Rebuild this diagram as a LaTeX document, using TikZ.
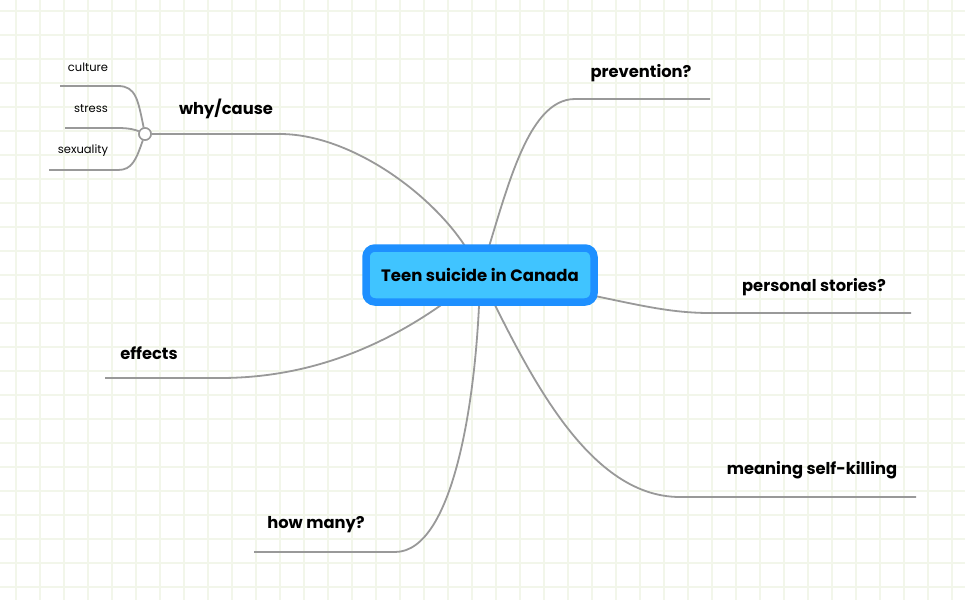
\documentclass[tikz,border=0pt]{standalone}
\usepackage{fontspec}
\setmainfont{Poppins}
\definecolor{gridc}{HTML}{F2F6EA}
\definecolor{linec}{HTML}{999999}
\definecolor{boxborder}{HTML}{1E90FF}
\definecolor{boxfill}{HTML}{40C4FF}
\tikzset{
  conn/.style={draw=linec, line width=1.8pt},
  mainlabel/.style={font=\fontsize{16.3}{19}\selectfont\bfseries, inner sep=0pt},
  sublabel/.style={font=\fontsize{11.5}{14}\selectfont, inner sep=0pt},
  hubnode/.style={circle, draw=linec, fill=white, line width=1.5pt, minimum size=12pt, inner sep=0pt},
  centralbox/.style={draw=boxborder, fill=boxfill, line width=7.5pt, rounded corners=9pt,
    minimum width=228pt, minimum height=54pt, font=\fontsize{16.5}{20}\selectfont\bfseries}
}
\begin{document}
\begin{tikzpicture}[x=1pt,y=-1pt]
\useasboundingbox (0,0) rectangle (965,600);
\fill[white] (0,0) rectangle (965,600);
\foreach \gx in {16,40,...,965} \draw[gridc, line width=1.3pt] (\gx,0) -- (\gx,600);
\foreach \gy in {11,35,...,600} \draw[gridc, line width=1.3pt] (0,\gy) -- (965,\gy);

\coordinate (c) at (480,275);
% branch anchor coordinates
\coordinate (why1) at (280,134);
\coordinate (prev1) at (575,99);
\coordinate (prev2) at (710,99);
\coordinate (pers1) at (710,313);
\coordinate (pers2) at (911,313);
\coordinate (mean1) at (680,497);
\coordinate (mean2) at (916,497);
\coordinate (how1) at (395,552);
\coordinate (how2) at (254,552);
\coordinate (eff1) at (220,378);
\coordinate (eff2) at (105,378);
\coordinate (cul1) at (118,86);
\coordinate (cul2) at (60,86);
\coordinate (str1) at (118,128);
\coordinate (str2) at (65,128);
\coordinate (sex1) at (118,170);
\coordinate (sex2) at (49,170);

\node[hubnode] (hub) at (145,134) {};

% main connectors
\draw[conn] (c) .. controls (457,212) and (360,134) .. (why1) -- (hub);
\draw[conn] (c) .. controls (505,200) and (525,99) .. (prev1) -- (prev2);
\draw[conn] (c) .. controls (610,295) and (650,313) .. (pers1) -- (pers2);
\draw[conn] (c) .. controls (525,365) and (585,497) .. (mean1) -- (mean2);
\draw[conn] (c) .. controls (478,390) and (455,552) .. (how1) -- (how2);
\draw[conn] (c) .. controls (415,330) and (330,378) .. (eff1) -- (eff2);

% sub connectors
\draw[conn] (hub) .. controls (138,100) and (136,86) .. (cul1) -- (cul2);
\draw[conn] (hub) .. controls (136,130) and (130,128) .. (str1) -- (str2);
\draw[conn] (hub) .. controls (136,160) and (132,170) .. (sex1) -- (sex2);
\node[hubnode] at (hub) {};

% central topic
\node[centralbox] (center) at (c) {Teen suicide in Canada};

% labels
\node[mainlabel] (why) at (226,109) {why/cause};
\node[mainlabel] (prev) at (641,73) {prevention?};
\node[mainlabel] (pers) at (814,287) {personal stories?};
\node[mainlabel] (mean) at (812,470) {meaning self-killing};
\node[mainlabel] (how) at (316,525) {how many?};
\node[mainlabel] (eff) at (149,353) {effects};
\node[sublabel] (cul) at (88,67) {culture};
\node[sublabel] (str) at (91,109) {stress};
\node[sublabel] (sex) at (83,151) {sexuality};
\end{tikzpicture}
\end{document}
